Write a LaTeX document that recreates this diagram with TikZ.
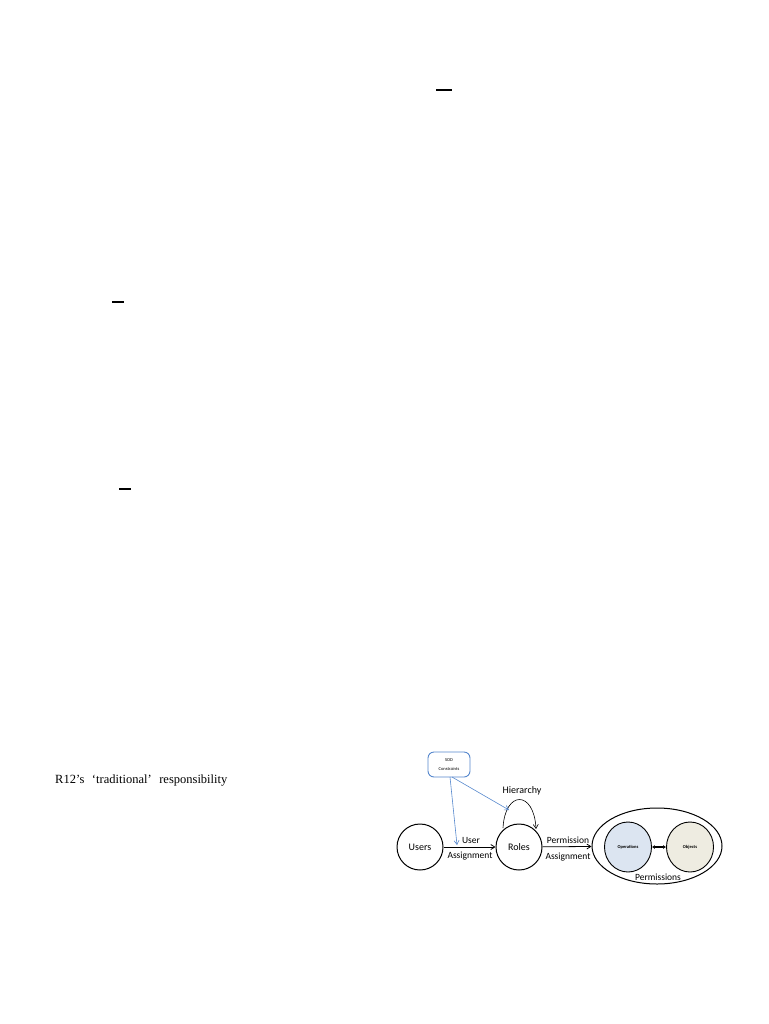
\documentclass[tikz,border=0pt]{standalone}
\usepackage{fontspec}
\setmainfont{Liberation Serif}
\newfontfamily\calfont{Carlito}
\usetikzlibrary{arrows.meta,shapes.geometric}
\definecolor{sodblue}{RGB}{85,135,205}
\definecolor{opfill}{RGB}{220,229,241}
\definecolor{objfill}{RGB}{238,236,225}
\tikzset{
  x=1pt,y=-1pt,
  dashmark/.style={line width=1.3pt,black},
  circnode/.style={circle,draw=black,line width=1pt,minimum size=46pt,inner sep=0pt,font=\calfont\fontsize{10}{10}\selectfont},
  innercirc/.style={draw=black,line width=0.9pt,inner sep=0pt,font=\calfont\bfseries\fontsize{4.5}{5}\selectfont},
  lbl/.style={font=\calfont\fontsize{9.5}{10}\selectfont,inner sep=0pt},
  conn/.style={line width=0.8pt,-{Straight Barb[length=4pt,width=5pt]}},
  sodarrow/.style={draw=sodblue,line width=0.6pt,-{Straight Barb[length=4pt,width=5pt]}},
}
\begin{document}
\begin{tikzpicture}
\useasboundingbox (0,0) rectangle (768,1024);
% short marks
\draw[dashmark] (436,90) -- (452,90);
\draw[dashmark] (112,302) -- (124,302);
\draw[dashmark] (119,489) -- (131,489);
% text
\node[anchor=west,inner sep=0pt,font=\fontsize{12.5}{14}\selectfont] (r12) at (55,781) {R12’s\hspace{4.5pt} ‘traditional’\hspace{4.5pt} responsibility};
% diagram
\node[circnode] (users) at (420,847) {Users};
\node[circnode] (roles) at (519,847) {Roles};
\node[ellipse,draw=black,line width=1pt,minimum width=130pt,minimum height=76pt,inner sep=0pt] (perm) at (657,846) {};
\node[innercirc,fill=opfill,minimum width=47pt,minimum height=50pt,ellipse] (ops) at (628,847) {Operations};
\node[innercirc,fill=objfill,minimum width=47pt,minimum height=50pt,ellipse] (objs) at (690,847) {Objects};
\node[lbl] (permlbl) at (658,877) {Permissions};
% SOD box
\node[draw=sodblue,line width=0.9pt,rounded corners=6pt,minimum width=42pt,minimum height=25pt,inner sep=1pt,align=center,font=\calfont\fontsize{4.5}{8.5}\selectfont,fill=white] (sod) at (449,764.5) {SOD\\Constraints};
% arrows
\draw[conn] (users) -- (roles);
\draw[conn] (roles) -- (perm);
\draw[line width=1.2pt,{Latex[length=3pt,width=4pt]}-{Latex[length=3pt,width=4pt]}] (ops) -- (objs);
\node[lbl] (ua1) at (471,840) {User};
\node[lbl] (ua2) at (470,856) {Assignment};
\node[lbl] (pa1) at (568,840) {Permission};
\node[lbl] (pa2) at (568,857) {Assignment};
% hierarchy loop
\coordinate (hs) at (503,828);
\coordinate (he) at (536,829);
\draw[line width=0.6pt,-{Straight Barb[length=4pt,width=5pt]}] (hs) .. controls (505,790) and (534,790) .. (he);
\node[lbl,font=\calfont\fontsize{10}{10}\selectfont] (hier) at (522,791) {Hierarchy};
% SOD arrows
\coordinate (sodA) at (457,845);
\coordinate (sodB) at (509,810);
\draw[sodarrow] (450,777) -- (sodA);
\draw[sodarrow] (452,777) -- (sodB);
\end{tikzpicture}
\end{document}
